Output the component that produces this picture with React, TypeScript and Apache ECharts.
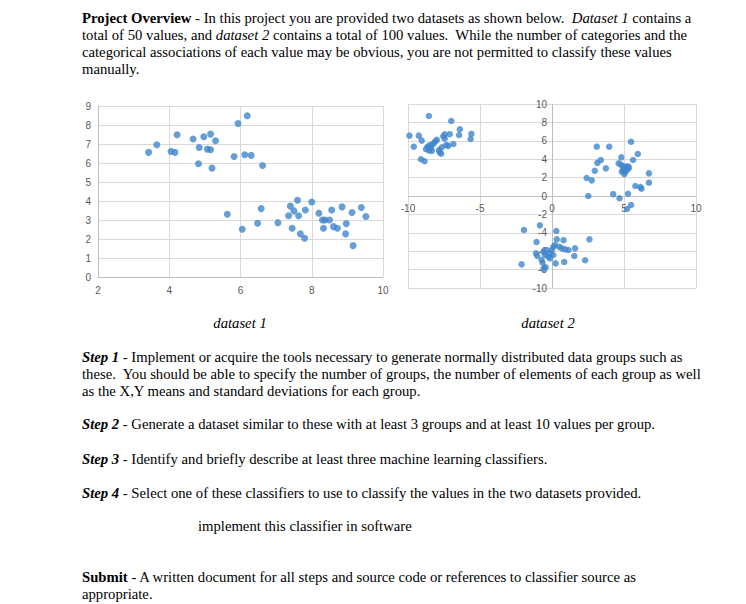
import React, { useEffect, useRef } from 'react';
import * as echarts from 'echarts';

// Dataset 1 (50 values)
const ds1GroupA: number[][] = [
  [3.42, 6.56], [3.65, 6.96], [4.22, 7.49], [4.05, 6.61], [4.16, 6.56], [4.67, 7.26],
  [4.84, 6.82], [4.82, 5.96], [4.97, 7.38], [5.16, 7.52], [5.07, 6.73], [5.16, 6.7],
  [5.3, 7.17], [5.2, 5.73], [5.82, 6.34], [5.93, 8.08], [6.19, 8.49], [6.12, 6.43],
  [6.3, 6.4], [6.62, 5.87],
];
const ds1GroupB: number[][] = [
  [5.63, 3.3], [6.05, 2.51], [6.58, 3.6], [6.48, 2.83], [7.05, 2.86], [7.4, 3.73],
  [7.35, 3.22], [7.5, 3.48], [7.45, 2.57], [7.6, 4.04], [7.63, 3.22], [7.68, 2.27],
  [7.82, 3.53], [7.8, 2.04], [8.0, 3.95], [8.2, 3.36], [8.3, 3.0], [8.37, 3.0],
  [8.33, 2.57], [8.5, 3.0], [8.56, 3.53], [8.61, 2.65], [8.72, 2.57], [8.85, 3.69],
  [8.97, 2.81], [8.95, 2.27], [9.13, 3.39], [9.16, 1.65], [9.39, 3.66], [9.52, 3.18],
];

// Dataset 2 (100 values)
const ds2GroupA: number[][] = [
  [-9.9, 6.56], [-9.6, 5.36], [-9.25, 6.56], [-9.05, 6.02], [-8.55, 8.7], [-9.1, 4.0],
  [-8.85, 3.78], [-8.75, 5.1], [-8.65, 5.35], [-8.55, 4.95], [-8.5, 5.5], [-8.4, 5.2],
  [-8.35, 4.9], [-8.3, 5.6], [-8.2, 5.75], [-8.1, 5.95], [-8.0, 6.1], [-7.85, 5.0],
  [-7.8, 4.75], [-7.7, 4.6], [-7.65, 5.3], [-7.55, 6.5], [-7.45, 6.7], [-7.45, 6.25],
  [-7.35, 5.55], [-7.2, 5.45], [-7.1, 6.72], [-7.0, 8.15], [-6.85, 5.65], [-6.4, 7.25],
  [-6.45, 6.63], [-5.6, 6.75], [-5.65, 6.2],
];
const ds2GroupB: number[][] = [
  [3.11, 5.36], [3.97, 5.36], [5.49, 5.9], [5.96, 4.56], [4.81, 4.2], [5.63, 3.91],
  [3.39, 3.91], [3.15, 3.6], [3.74, 3.0], [2.97, 2.75], [2.41, 1.96], [2.76, 1.7],
  [2.52, 0.0], [4.25, 0.2], [4.69, -0.25], [5.28, 0.25], [5.49, -0.98], [5.21, -1.41],
  [5.79, 1.09], [6.14, 0.98], [6.21, 0.8], [6.73, 2.46], [6.73, 1.45], [4.63, 3.55],
  [4.81, 3.37], [4.97, 3.19], [5.16, 3.19], [5.32, 3.0], [4.92, 2.82], [5.09, 2.64],
  [5.02, 2.38], [5.2, 2.82], [5.32, 3.19], [4.85, 2.64],
];
const ds2GroupC: number[][] = [
  [-1.95, -3.7], [-0.84, -3.19], [0.3, -3.8], [-1.07, -5.0], [-2.11, -7.43], [-0.6, -7.93],
  [-0.44, -7.75], [2.6, -4.71], [1.6, -5.69], [2.3, -6.99], [1.55, -6.52], [0.8, -4.8],
  [0.85, -7.17], [0.25, -7.32], [0.33, -4.71], [-1.11, -6.23], [-1.02, -6.52], [-0.72, -6.96],
  [-0.65, -7.25], [-0.37, -5.87], [-0.14, -6.23], [-0.02, -5.87], [0.09, -5.51], [0.21, -5.33],
  [-0.6, -6.05], [-0.49, -6.41], [-0.26, -6.6], [-0.14, -6.78], [0.09, -6.41], [0.51, -5.51],
  [0.68, -5.69], [0.91, -5.8], [1.14, -5.87],
];

// Document text lines
const docLines: { x: number; y: number; text: string; align?: string }[] = [
  { x: 82, y: 18, text: '{b|Project Overview} - In this project you are provided two datasets as shown below.  {i|Dataset 1} contains a' },
  { x: 82, y: 35, text: 'total of 50 values, and {i|dataset 2} contains a total of 100 values.  While the number of categories and the' },
  { x: 82, y: 52, text: 'categorical associations of each value may be obvious, you are not permitted to classify these values' },
  { x: 82, y: 69, text: 'manually.' },
  { x: 240, y: 323, text: '{i|dataset 1}', align: 'center' },
  { x: 548, y: 323, text: '{i|dataset 2}', align: 'center' },
  { x: 82, y: 357, text: '{bi|Step 1} - Implement or acquire the tools necessary to generate normally distributed data groups such as' },
  { x: 82, y: 374, text: 'these.  You should be able to specify the number of groups, the number of elements of each group as well' },
  { x: 82, y: 391, text: 'as the X,Y means and standard deviations for each group.' },
  { x: 82, y: 424, text: '{bi|Step 2} - Generate a dataset similar to these with at least 3 groups and at least 10 values per group.' },
  { x: 82, y: 459, text: '{bi|Step 3} - Identify and briefly describe at least three machine learning classifiers.' },
  { x: 82, y: 493, text: '{bi|Step 4} - Select one of these classifiers to use to classify the values in the two datasets provided.' },
  { x: 198, y: 526, text: 'implement this classifier in software' },
  { x: 82, y: 577, text: '{b|Submit} - A written document for all steps and source code or references to classifier source as' },
  { x: 82, y: 594, text: 'appropriate.' },
];

const SERIF = '"Liberation Serif", "Times New Roman", serif';
const SANS = '"Liberation Sans", Arial, sans-serif';
const FS = 14.7;
const DOT = '#4086cc';
const GRID = '#d9d9d9';
const AXIS = '#bfbfbf';
const LABEL = '#595959';

export default function App() {
  const ref = useRef<HTMLDivElement>(null);
  useEffect(() => {
    if (!ref.current) return;
    const chart = echarts.init(ref.current, null, { renderer: 'svg', width: 746, height: 604 });
    const rich = {
      b: { fontFamily: SERIF, fontSize: FS, fontWeight: 'bold', fill: '#000' },
      i: { fontFamily: SERIF, fontSize: FS, fontStyle: 'italic', fill: '#000' },
      bi: { fontFamily: SERIF, fontSize: FS, fontWeight: 'bold', fontStyle: 'italic', fill: '#000' },
    };
    const lineStyle = { color: AXIS, width: 1 };
    const axisCommon = {
      axisTick: { show: false },
      axisLine: { show: true, onZero: false, lineStyle },
      splitLine: { show: true, lineStyle: { color: GRID, width: 1 } },
      axisLabel: { color: LABEL, fontSize: 10, fontFamily: SANS },
    };
    chart.setOption({
      animation: false,
      backgroundColor: '#fff',
      grid: [
        { left: 98, top: 106, width: 285, height: 171 },
        { left: 408, top: 104, width: 288, height: 184 },
      ],
      xAxis: [
        { ...axisCommon, gridIndex: 0, type: 'value', min: 2, max: 10, interval: 2,
          axisLabel: { ...axisCommon.axisLabel, margin: 8 } },
        { ...axisCommon, gridIndex: 1, type: 'value', min: -10, max: 10, interval: 5,
          position: 'bottom', offset: -92,
          axisLabel: { ...axisCommon.axisLabel, margin: 7 } },
      ],
      yAxis: [
        { ...axisCommon, gridIndex: 0, type: 'value', min: 0, max: 9, interval: 1,
          axisLabel: { ...axisCommon.axisLabel, margin: 7 } },
        { ...axisCommon, gridIndex: 1, type: 'value', min: -10, max: 10, interval: 2,
          position: 'left', offset: -144,
          axisLabel: { ...axisCommon.axisLabel, margin: 5 } },
      ],
      series: [
        { type: 'scatter', xAxisIndex: 0, yAxisIndex: 0, data: [...ds1GroupA, ...ds1GroupB],
          symbolSize: 7, itemStyle: { color: DOT } },
        { type: 'scatter', xAxisIndex: 1, yAxisIndex: 1, data: [...ds2GroupA, ...ds2GroupB, ...ds2GroupC],
          symbolSize: 6.5, itemStyle: { color: DOT } },
      ],
      graphic: docLines.map((l) => ({
        type: 'text',
        x: l.x,
        y: l.y,
        silent: true,
        style: {
          text: l.text,
          fontFamily: SERIF,
          fontSize: FS,
          fill: '#000',
          align: l.align || 'left',
          verticalAlign: 'middle',
          rich,
        },
      })),
    });
    return () => chart.dispose();
  }, []);
  return (
    <div
      ref={ref}
      style={{ position: 'absolute', left: 0, top: 0, width: 746, height: 604, background: '#fff' }}
    />
  );
}
